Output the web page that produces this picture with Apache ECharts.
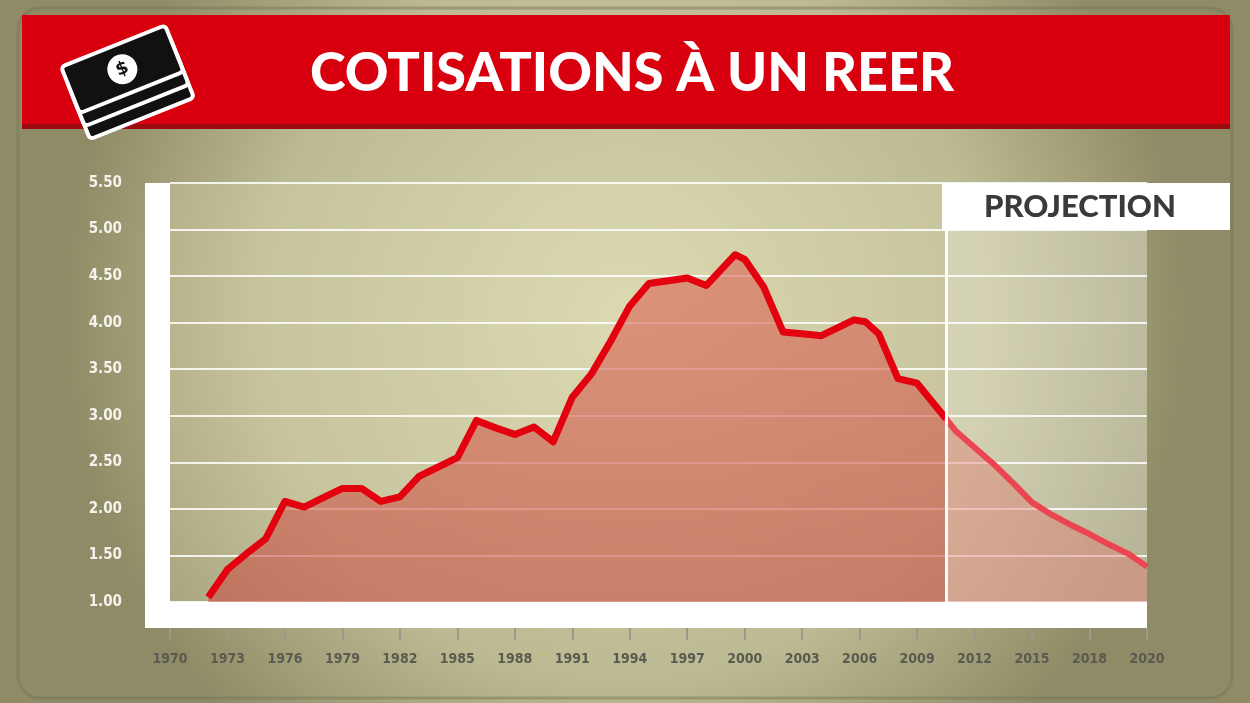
<!DOCTYPE html>
<html><head><meta charset="utf-8">
<script src="https://cdn.jsdelivr.net/npm/echarts@6/dist/echarts.min.js"></script>
<style>html,body{margin:0;padding:0;background:#7d7a58;}#chart{width:1250px;height:703px;}</style>
</head><body><div id="chart"></div>
<script>
"use strict";

const histYears = [1972,1973,1974,1975,1976,1977,1978,1979,1980,1981,1982,1983,1984,1985,1986,1987,1988,1989,1990,1991,1992,1993,1994,1995,1996,1997,1998,1999.5,2000,2001,2002,2003,2004,2005.7,2006.3,2007,2008,2009,2010.5];
const histValues = [1.05,1.35,1.52,1.68,2.08,2.02,2.12,2.22,2.22,2.08,2.13,2.35,2.45,2.55,2.95,2.87,2.80,2.88,2.72,3.20,3.45,3.80,4.18,4.42,4.45,4.48,4.40,4.73,4.68,4.38,3.90,3.88,3.86,4.03,4.01,3.88,3.40,3.35,2.97];
const projYears = [2010.5,2011,2012,2013,2014,2015,2016,2017,2018,2019,2020,2021];
const projValues = [2.97,2.84,2.66,2.48,2.28,2.07,1.94,1.83,1.73,1.62,1.52,1.38];
const xTickLabels = {1970:"1970",1973:"1973",1976:"1976",1979:"1979",1982:"1982",1985:"1985",1988:"1988",1991:"1991",1994:"1994",1997:"1997",2000:"2000",2003:"2003",2006:"2006",2009:"2009",2012:"2012",2015:"2015",2018:"2018",2021:"2020"};
const projectionStart = 2010.5;

const myChart = echarts.init(document.getElementById("chart"));

const option = {
	backgroundColor: {type:"radial",x:0.5,y:0.45,r:0.8,colorStops:[{offset:0,color:"#d8d6ac"},{offset:0.65,color:"#bcba92"},{offset:1,color:"#8e8b66"}]},
	grid: {left:170,top:183,right:103,bottom:101,show:true,backgroundColor:"rgba(230,228,190,0.25)",borderWidth:0},
	xAxis: [{
		type:"value",min:1970,max:2021,interval:3,
		axisLine:{show:false},axisTick:{show:false},axisLabel:{show:false},splitLine:{show:false}
	},{
		type:"value",min:1970,max:2021,interval:3,position:"bottom",offset:26,
		axisLine:{show:false},
		axisTick:{show:true,length:12,lineStyle:{color:"#9a9a8a",width:2}},
		splitLine:{show:false},
		axisLabel:{margin:24,color:"#5a5a50",fontFamily:"DejaVu Sans Condensed",fontWeight:"bold",fontSize:14,
			formatter:(v)=>xTickLabels[v] || ""}
	}],
	yAxis: {
		type:"value",min:1,max:5.5,interval:0.5,
		axisLine:{show:false},axisTick:{show:false},
		splitLine:{lineStyle:{color:"rgba(255,255,255,0.85)",width:2}},
		axisLabel:{margin:48,color:"#f4f4ec",fontFamily:"DejaVu Sans Condensed",fontWeight:"bold",fontSize:15,
			formatter:(v)=>v.toFixed(2)}
	},
	graphic: [
		{type:"rect",z:0,shape:{x:18,y:8,width:1214,height:690,r:22},style:{fill:"none",stroke:"rgba(120,118,90,0.5)",lineWidth:3}},
		{type:"rect",z:0,shape:{x:145,y:183,width:25,height:445},style:{fill:"#ffffff"}},
		{type:"rect",z:0,shape:{x:145,y:602,width:1002,height:26},style:{fill:"#ffffff"}},
		{type:"rect",z:0,shape:{x:22,y:15,width:1208,height:113},style:{fill:"#d8000e"}},
		{type:"rect",z:0,shape:{x:22,y:124,width:1208,height:5},style:{fill:"#9c0a10"}},
		{type:"text",z:10,x:632,y:74,style:{text:"COTISATIONS À UN REER",fill:"#ffffff",font:"900 54px Lato, 'Open Sans', sans-serif",align:"center",verticalAlign:"middle"}},
		{type:"group",z:10,x:132,y:88,rotation:0.38,children:[
			{type:"rect",shape:{x:-58,y:-18,width:112,height:50,r:4},style:{fill:"#111",stroke:"#fff",lineWidth:4}},
			{type:"rect",shape:{x:-58,y:-32,width:112,height:50,r:4},style:{fill:"#111",stroke:"#fff",lineWidth:4}},
			{type:"rect",shape:{x:-58,y:-46,width:112,height:50,r:4},style:{fill:"#111",stroke:"#fff",lineWidth:4}},
			{type:"circle",shape:{cx:-2,cy:-21,r:15},style:{fill:"#fff"}},
			{type:"text",x:-2,y:-21,style:{text:"$",fill:"#111",font:"bold 18px 'DejaVu Sans'",align:"center",verticalAlign:"middle"}}
		]},
		{type:"rect",z:10,shape:{x:942,y:183,width:288,height:47},style:{fill:"#ffffff"}},
		{type:"text",z:11,x:1080,y:207,style:{text:"PROJECTION",fill:"#3a3a3a",font:"900 31px Lato, 'Open Sans', sans-serif",align:"center",verticalAlign:"middle"}}
	],
	series: [
		{
			type:"line",data:histYears.map((y,i)=>[y,histValues[i]]),
			symbol:"none",smooth:false,z:3,
			lineStyle:{color:"#e3000f",width:7,join:"round"},
			areaStyle:{color:{type:"linear",x:0,y:0,x2:0,y2:1,colorStops:[{offset:0,color:"rgba(220,100,85,0.85)"},{offset:1,color:"rgba(200,80,70,0.85)"}]}},
			markLine:{silent:true,symbol:"none",label:{show:false},lineStyle:{color:"#ffffff",width:3,type:"solid"},data:[{xAxis:projectionStart}]},
			markArea:{silent:true,itemStyle:{color:"rgba(255,255,255,0.22)"},data:[[{xAxis:projectionStart,yAxis:1},{xAxis:2021,yAxis:5.5}]]}
		},
		{
			type:"line",data:projYears.map((y,i)=>[y,projValues[i]]),
			symbol:"none",z:3,
			lineStyle:{color:"#ea4550",width:6},
			areaStyle:{color:"rgba(225,120,110,0.6)"}
		}
	]
};
myChart.setOption(option);
</script></body></html>
